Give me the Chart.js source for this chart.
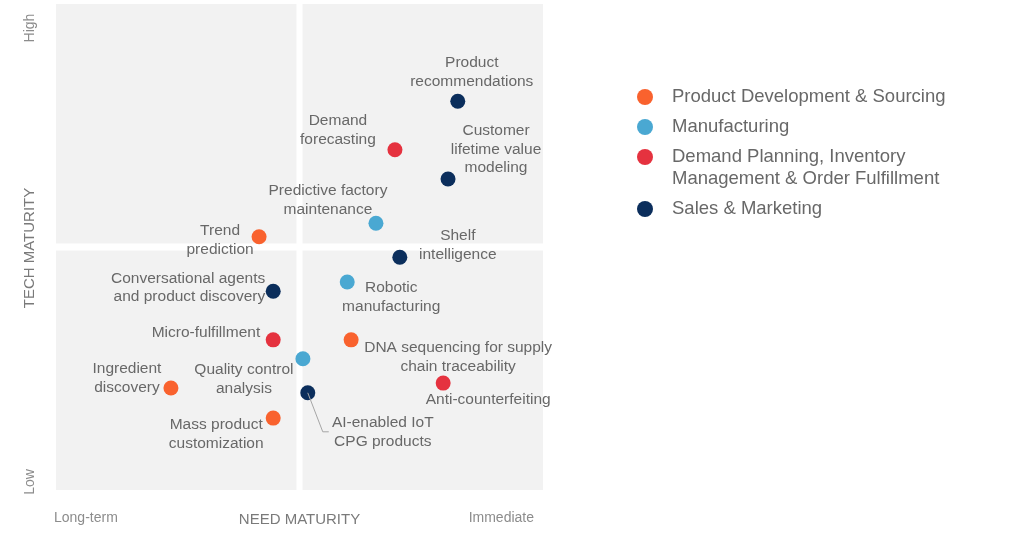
<!DOCTYPE html>
<html><head><meta charset="utf-8">
<script src="https://cdn.jsdelivr.net/npm/chart.js@4/dist/chart.umd.min.js"></script>
<style>html,body{margin:0;padding:0;background:#fff;overflow:hidden}canvas{display:block}</style>
</head><body>
<canvas id="c" width="1027" height="533" style="width:1027px;height:533px"></canvas>
<script>
// ---- Data ----
const seriesNames = [
  "Product Development & Sourcing",
  "Manufacturing",
  "Demand Planning, Inventory Management & Order Fulfillment",
  "Sales & Marketing"
];
const pointNames = [
  "Product\nrecommendations",
  "Demand\nforecasting",
  "Customer\nlifetime value\nmodeling",
  "Predictive factory\nmaintenance",
  "Trend\nprediction",
  "Shelf\nintelligence",
  "Robotic\nmanufacturing",
  "Conversational agents\nand product discovery",
  "Micro-fulfillment",
  "DNA sequencing for supply\nchain traceability",
  "Quality control\nanalysis",
  "Anti-counterfeiting",
  "Ingredient\ndiscovery",
  "AI-enabled IoT\nCPG products",
  "Mass product\ncustomization"
];
const needMaturity = [8.25, 6.96, 8.05, 6.57, 4.17, 7.06, 5.98, 4.46, 4.46, 6.06, 5.07, 7.95, 2.36, 5.17, 4.46];
const techMaturity = [8.00, 7.00, 6.40, 5.49, 5.21, 4.79, 4.28, 4.09, 3.09, 3.09, 2.70, 2.20, 2.10, 2.00, 1.48];
const pointSeries  = [3, 2, 3, 1, 0, 3, 1, 3, 2, 0, 1, 2, 0, 3, 0];
const xAxisTicks = ["Long-term", "Immediate"];
const yAxisTicks = ["Low", "High"];
const xAxisTitle = "NEED MATURITY";
const yAxisTitle = "TECH MATURITY";

// ---- Styles (not data) ----
const seriesColors = ["#F9622E", "#4AA8D2", "#E5323F", "#0B2E5C"];
const labelLayout = [
  {dx: 14, dy: -38, align: "center"},
  {dx: -57, dy: -29, align: "center"},
  {dx: 48, dy: -48, align: "center"},
  {dx: -48, dy: -32, align: "center"},
  {dx: -39, dy: -6, align: "center"},
  {dx: 58, dy: -21, align: "center"},
  {dx: 44, dy: 6, align: "center"},
  {dx: -8, dy: -13, align: "right"},
  {dx: -13, dy: -7, align: "right"},
  {dx: 107, dy: 8, align: "center"},
  {dx: -59, dy: 11, align: "center"},
  {dx: 45, dy: 17, align: "center"},
  {dx: -44, dy: -19, align: "center"},
  {dx: 75, dy: 30, align: "center", leader: [[15, 39], [21, 39]]},
  {dx: -57, dy: 7, align: "center"}
];
const FONT = '"Liberation Sans", Arial, sans-serif';

const datasets = seriesNames.map((name, s) => {
  const pts = [];
  pointNames.forEach((p, i) => {
    if (pointSeries[i] === s) pts.push({x: needMaturity[i], y: techMaturity[i], idx: i});
  });
  return {
    label: name,
    data: pts,
    backgroundColor: seriesColors[s],
    borderWidth: 0,
    pointRadius: 7.5,
    pointHoverRadius: 7.5
  };
});

function wrap(ctx, text, maxW) {
  const words = text.split(" ");
  const lines = [];
  let cur = "";
  words.forEach(w => {
    const t = cur ? cur + " " + w : w;
    if (ctx.measureText(t).width > maxW && cur) { lines.push(cur); cur = w; }
    else cur = t;
  });
  if (cur) lines.push(cur);
  return lines;
}

const quadPlugin = {
  id: "quad",
  beforeDatasetsDraw(chart) {
    const {ctx, chartArea: a, scales: {x, y}} = chart;
    ctx.save();
    ctx.fillStyle = "#F2F2F2";
    ctx.fillRect(a.left, a.top, a.right - a.left, a.bottom - a.top);
    ctx.fillStyle = "#FFFFFF";
    const cx = x.getPixelForValue(5), cy = y.getPixelForValue(5);
    ctx.fillRect(cx - 3, a.top, 6, a.bottom - a.top);
    ctx.fillRect(a.left, cy - 3.5, a.right - a.left, 7);
    ctx.restore();
  },
  afterDatasetsDraw(chart) {
    const {ctx, chartArea: a, scales: {x, y}} = chart;
    ctx.save();
    // point labels
    ctx.font = "15.5px " + FONT;
    ctx.fillStyle = "#686868";
    ctx.textBaseline = "middle";
    pointNames.forEach((name, i) => {
      const px = x.getPixelForValue(needMaturity[i]);
      const py = y.getPixelForValue(techMaturity[i]);
      const L = labelLayout[i];
      if (L.leader) {
        ctx.strokeStyle = "#A6A6A6";
        ctx.lineWidth = 1;
        ctx.beginPath();
        ctx.moveTo(px, py);
        L.leader.forEach(p => ctx.lineTo(px + p[0], py + p[1]));
        ctx.stroke();
      }
      ctx.textAlign = L.align;
      name.split("\n").forEach((ln, k) => {
        ctx.fillText(ln, px + L.dx, py + L.dy + k * 18.5);
      });
    });
    // axis texts
    ctx.fillStyle = "#7A7A7A";
    ctx.font = "15px " + FONT;
    ctx.textAlign = "center";
    ctx.fillText(xAxisTitle, (a.left + a.right) / 2, 520);
    ctx.font = "14px " + FONT;
    ctx.fillStyle = "#8C8C8C";
    ctx.textAlign = "left";
    ctx.fillText(xAxisTicks[0], a.left - 2, 518);
    ctx.textAlign = "right";
    ctx.fillText(xAxisTicks[1], a.right - 9, 518);
    // y axis rotated
    ctx.save();
    ctx.translate(30, 0);
    ctx.rotate(-Math.PI / 2);
    ctx.textAlign = "center";
    ctx.fillStyle = "#8C8C8C";
    ctx.font = "14px " + FONT;
    ctx.fillText(yAxisTicks[1], -28, 0);
    ctx.fillText(yAxisTicks[0], -482, 0);
    ctx.fillStyle = "#7A7A7A";
    ctx.font = "15px " + FONT;
    ctx.fillText(yAxisTitle, -248, 0);
    ctx.restore();
    // legend
    ctx.font = "18.5px " + FONT;
    ctx.textAlign = "left";
    let ly = 97;
    seriesNames.forEach((n, s) => {
      ctx.fillStyle = seriesColors[s];
      ctx.beginPath();
      ctx.arc(645, ly, 8, 0, Math.PI * 2);
      ctx.fill();
      ctx.fillStyle = "#686868";
      const lines = wrap(ctx, n, 290);
      lines.forEach((ln, k) => ctx.fillText(ln, 672, ly + k * 22));
      ly += 30 + (lines.length - 1) * 22;
    });
    ctx.restore();
  }
};

new Chart(document.getElementById("c"), {
  type: "scatter",
  data: {datasets},
  options: {
    responsive: false,
    devicePixelRatio: 1,
    animation: false,
    layout: {autoPadding: false, padding: {left: 56, top: 4, right: 484, bottom: 43}},
    plugins: {legend: {display: false}, tooltip: {enabled: false}},
    scales: {
      x: {type: "linear", min: 0, max: 10, display: false},
      y: {type: "linear", min: 0, max: 10, display: false}
    }
  },
  plugins: [quadPlugin]
});
</script>
</body></html>
